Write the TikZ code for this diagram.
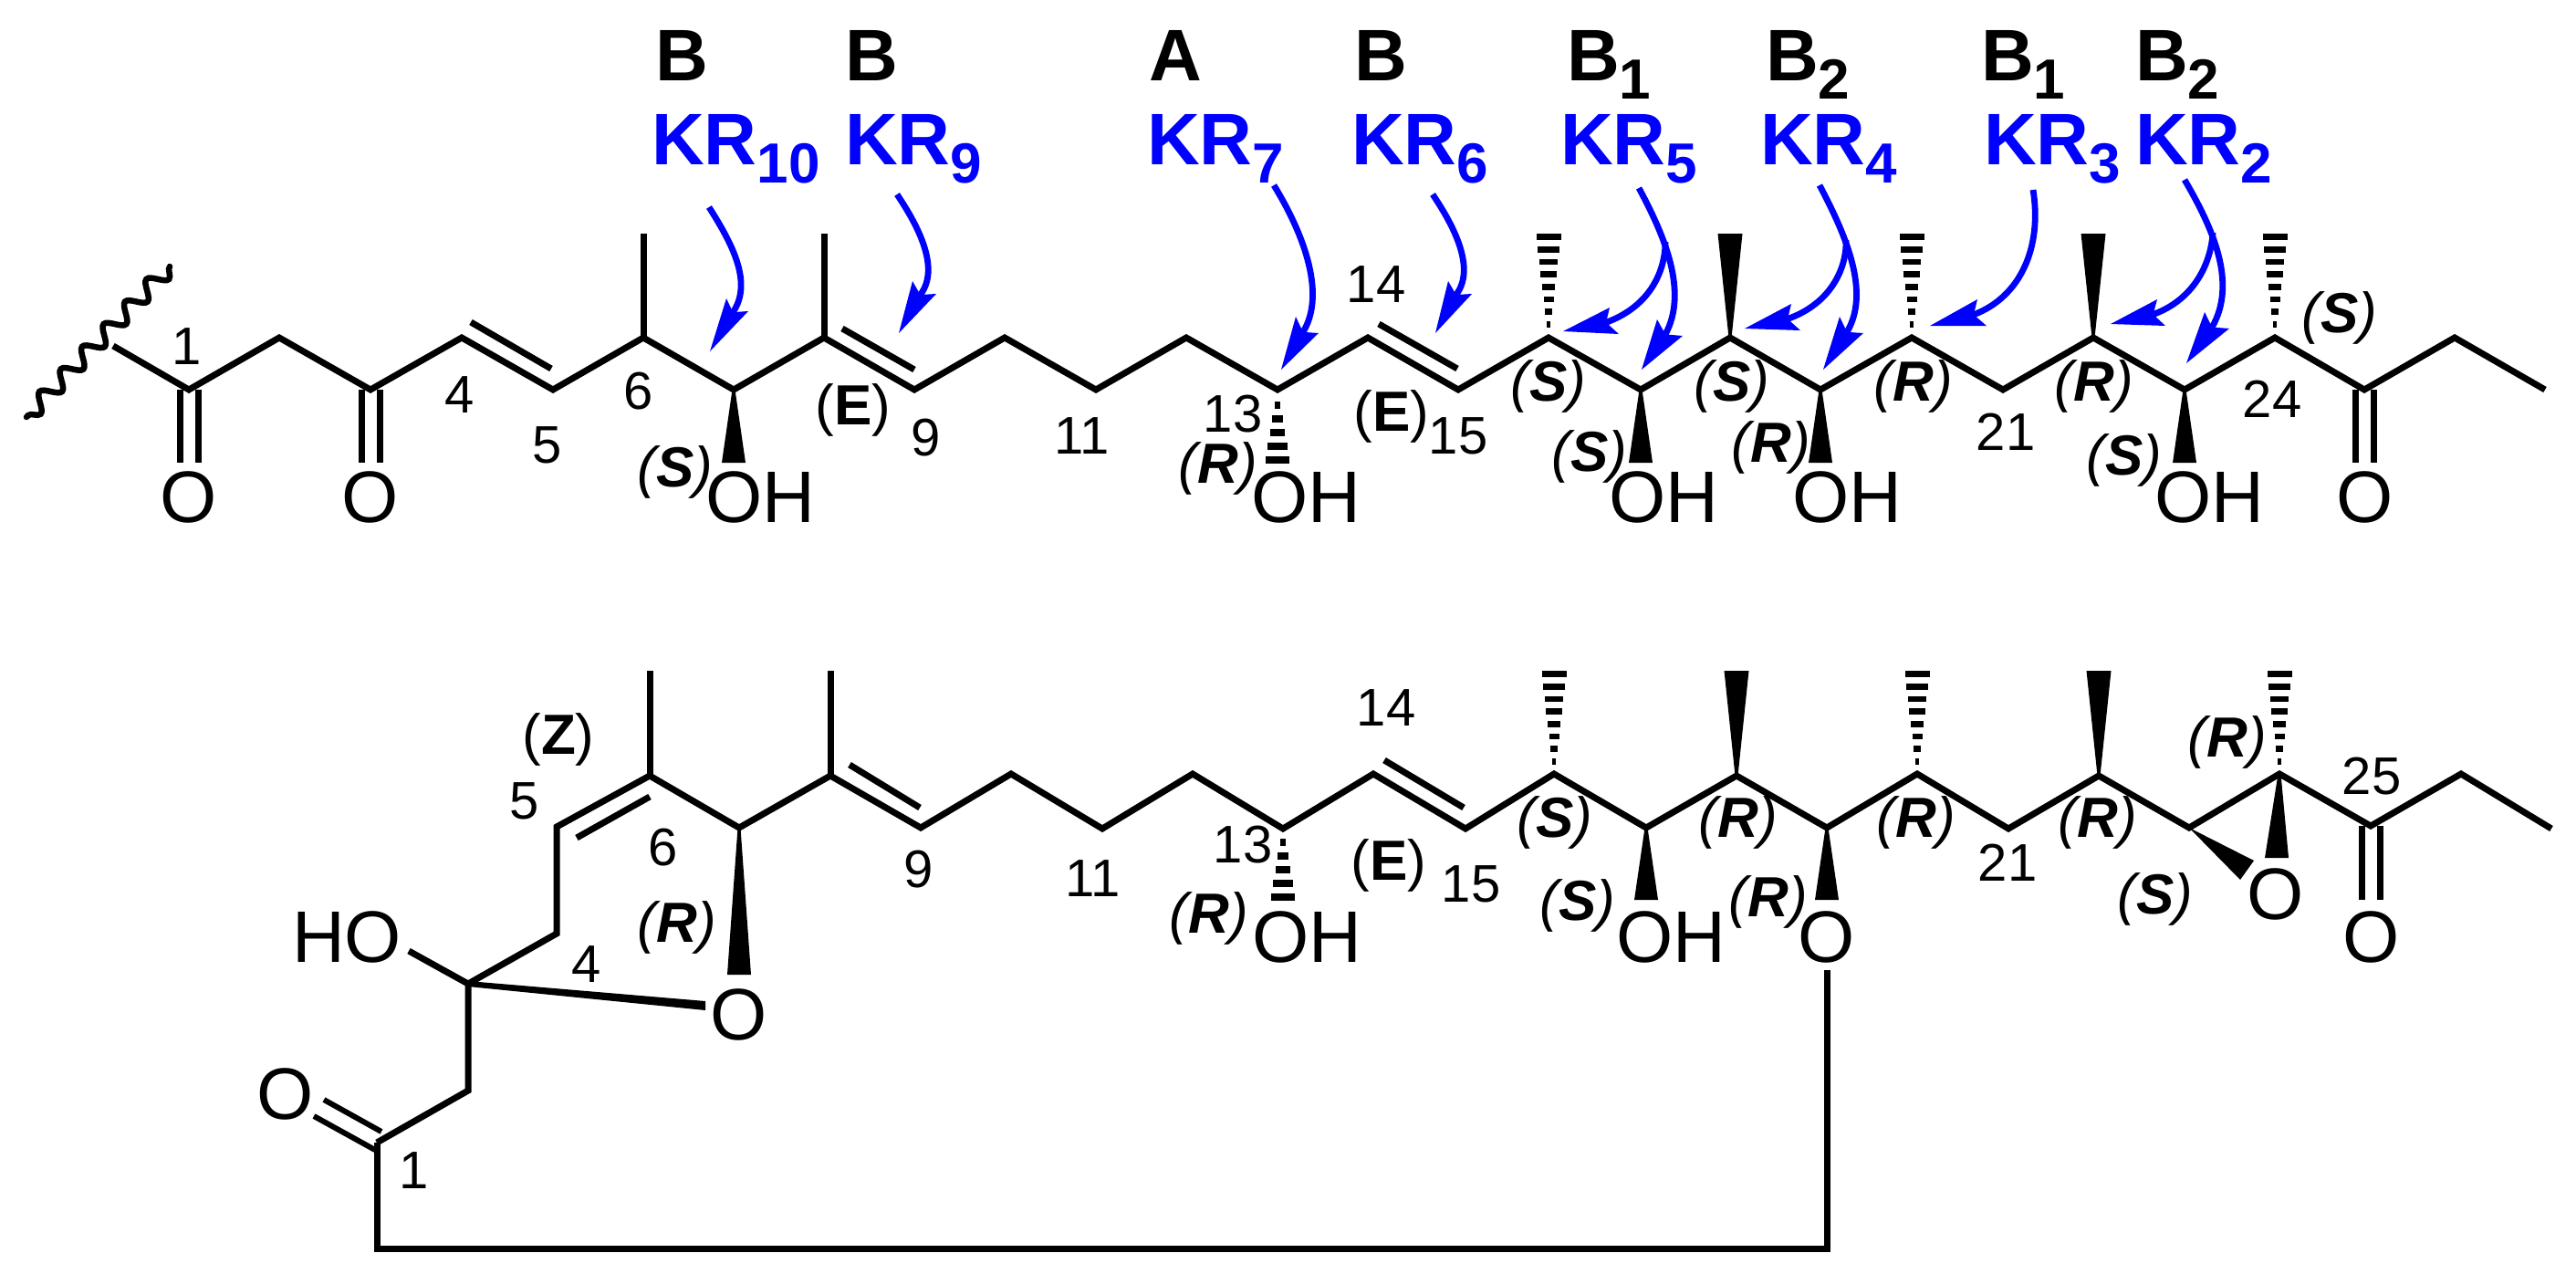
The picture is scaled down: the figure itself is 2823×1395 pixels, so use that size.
\documentclass[tikz,border=0pt]{standalone}
\usepackage{fontspec}
\setmainfont{Liberation Sans}
\usetikzlibrary{calc,decorations.pathmorphing}
\newcommand{\stR}[1]{{\itshape(}{\bfseries\itshape #1}{\itshape)}}
\newcommand{\stE}[1]{({\bfseries #1})}
\newcommand{\subdig}[1]{\raisebox{-20pt}{\fontsize{62pt}{70pt}\selectfont #1}}
% hashed bond going up from an atom, given its x and the free end's y
\newcommand{\hashup}[2]{\foreach \i in {0,...,7}{
  \pgfmathsetmacro{\hy}{#2+3.5+\i*13.7}
  \pgfmathsetmacro{\hw}{13.5-\i*1.6}
  \fill (#1-\hw,\hy-3.4) rectangle (#1+\hw,\hy+3.4);}}
% hashed bond going down from an atom
\newcommand{\hashdown}[2]{\foreach \i in {1,...,5}{
  \pgfmathsetmacro{\hy}{#2+\i*15}
  \pgfmathsetmacro{\hw}{1+\i*2.4}
  \fill (#1-\hw,\hy-4) rectangle (#1+\hw,\hy+4);}}
% solid wedge: apex name, end x, end y, half width
\newcommand{\wedgebond}[4]{\fill (#1) ++(-1.5,0) -- (#2-#4,#3) -- (#2+#4,#3) -- ($(#1)+(1.5,0)$) -- cycle;}
% blue curved arrow: name, start, control, control, tip, head back left, head back right
\newcommand{\krarrow}[7]{
  \coordinate (#1s) at #2; \coordinate (#1t) at #5;
  \coordinate (#1l) at #6; \coordinate (#1r) at #7;
  \coordinate (#1n) at ($(#1l)!.5!(#1r)!.16!(#1t)$);
  \draw[krline] (#1s) .. controls #3 and #4 .. (#1n);
  \fill[blue] (#1t) -- (#1l) -- (#1n) -- (#1r) -- cycle;}
\begin{document}
\begin{tikzpicture}[x=1pt,y=-1pt,
  bond/.style={line width=7pt,line join=miter,black},
  krline/.style={line width=6.8pt,blue},
  labbig/.style={inner sep=0pt,outer sep=0pt,font=\fontsize{80pt}{90pt}\selectfont},
  labtitle/.style={labbig,anchor=base west,font=\fontsize{80pt}{90pt}\selectfont\bfseries},
  labkr/.style={labtitle,text=blue},
  labnum/.style={inner sep=0pt,anchor=base,font=\fontsize{58pt}{64pt}\selectfont},
  labster/.style={inner sep=0pt,anchor=base,font=\fontsize{62pt}{70pt}\selectfont},
]
\useasboundingbox (0,0) rectangle (2823,1395);
% ---------- upper chain atoms
\foreach \n/\x/\y in {1/207/427,2/306/370,3/406/427,4/506/370,5/606/427,6/705/370,7/804/427,8/903/370,9/1002/427,10/1101/370,11/1201/427,12/1300/370,13/1400/427,14/1499/370,15/1598/427,16/1697/370,17/1798/427,18/1896/370,19/1995/427,20/2095/370,21/2195/427,22/2294/370,23/2394/427,24/2493/370,25/2591/427,26/2690/370,27/2789/427}
  {\coordinate (c\n) at (\x,\y);}
\coordinate (wave) at (124,379);
\coordinate (wavea) at (186,292);
\coordinate (waveb) at (29,457);
\draw[bond] (wave)--(c1)--(c2)--(c3)--(c4)--(c5)--(c6)--(c7)--(c8)--(c9)--(c10)--(c11)--(c12)--(c13)--(c14)--(c15)--(c16)--(c17)--(c18)--(c19)--(c20)--(c21)--(c22)--(c23)--(c24)--(c25)--(c26)--(c27);
\draw[line width=6.5pt,line cap=round,decorate,decoration={snake,segment length=34pt,amplitude=9pt}] (wavea) -- (waveb);
% double bonds
\coordinate (d4a) at (516,353); \coordinate (d4b) at (604,404);
\coordinate (d8a) at (923,360); \coordinate (d8b) at (1002,405);
\coordinate (d14a) at (1511,355); \coordinate (d14b) at (1597,404);
\draw[bond] (d4a)--(d4b); \draw[bond] (d8a)--(d8b); \draw[bond] (d14a)--(d14b);
% carbonyls
\foreach \n in {1,3,25}{
  \draw[bond] ([xshift=-10pt]c\n) -- ([xshift=-10pt,yshift=-80pt]c\n);
  \draw[bond] ([xshift=10pt]c\n) -- ([xshift=10pt,yshift=-80pt]c\n);}
% methyls
\coordinate (m6) at (705,256); \coordinate (m8) at (903,256);
\draw[bond] (c6)--(m6); \draw[bond] (c8)--(m8);
\hashup{1697}{256}\hashup{2095}{256}\hashup{2493}{256}
\wedgebond{c18}{1896}{256}{13.5}
\wedgebond{c22}{2294}{256}{13.5}
% OH wedges
\wedgebond{c7}{804}{507}{13}
\wedgebond{c17}{1798}{507}{13}
\wedgebond{c19}{1995}{507}{13}
\wedgebond{c23}{2394}{507}{13}
\hashdown{1400}{429}
% ---------- upper texts
\node[labbig,anchor=base] (o1) at (207,572) {O};
\node[labbig,anchor=base] (o3) at (406,572) {O};
\node[labbig,anchor=base] (o25) at (2592,572) {O};
\node[labbig,anchor=base west] (oh7) at (773,572) {OH};
\node[labbig,anchor=base west] (oh13) at (1371,572) {OH};
\node[labbig,anchor=base west] (oh17) at (1763,572) {OH};
\node[labbig,anchor=base west] (oh19) at (1964,572) {OH};
\node[labbig,anchor=base west] (oh23) at (2361,572) {OH};
\node[labster] (s7) at (740,533) {\stR{S}};
\node[labster] (e9) at (935,465) {\stE{E}};
\node[labster] (r13) at (1335,529) {\stR{R}};
\node[labster] (e15) at (1525,472) {\stE{E}};
\node[labster] (s16) at (1697,439) {\stR{S}};
\node[labster] (s17) at (1742,516) {\stR{S}};
\node[labster] (s18) at (1898,439) {\stR{S}};
\node[labster] (r19) at (1941,506) {\stR{R}};
\node[labster] (r20) at (2097,439) {\stR{R}};
\node[labster] (r22) at (2295,439) {\stR{R}};
\node[labster] (s23) at (2328,520) {\stR{S}};
\node[labster] (s24) at (2564,364) {\stR{S}};
\foreach \t/\x/\y in {1/205/399,4/504/452,5/600/507,6/700/448,9/1015/499,11/1186/497,13/1351/473,14/1508/331,15/1598/497,21/2198/493,24/2490/457}
  {\node[labnum] (nu\t) at (\x,\y) {\t};}
% ---------- top captions
\node[labtitle] (tb1) at (718,88) {B};
\node[labtitle] (tb2) at (926,88) {B};
\node[labtitle] (ta) at (1259,88) {A};
\node[labtitle] (tb3) at (1484,88) {B};
\node[labtitle] (tb4) at (1717,88) {B\subdig{1}};
\node[labtitle] (tb5) at (1935,88) {B\subdig{2}};
\node[labtitle] (tb6) at (2171,88) {B\subdig{1}};
\node[labtitle] (tb7) at (2340,88) {B\subdig{2}};
\node[labkr] (k10) at (714,180) {KR\subdig{10}};
\node[labkr] (k9) at (926,180) {KR\subdig{9}};
\node[labkr] (k7) at (1257,180) {KR\subdig{7}};
\node[labkr] (k6) at (1481,180) {KR\subdig{6}};
\node[labkr] (k5) at (1710,180) {KR\subdig{5}};
\node[labkr] (k4) at (1929,180) {KR\subdig{4}};
\node[labkr] (k3) at (2174,180) {KR\subdig{3}};
\node[labkr] (k2) at (2340,180) {KR\subdig{2}};
% ---------- blue arrows
\krarrow{a10}{(777,227)}{(803,268)}{(825,310)}{(778,385)}{(796,327)}{(820,341)}
\krarrow{a9}{(983,213)}{(1008,250)}{(1030,295)}{(985,365)}{(1000,308)}{(1026,322)}
\krarrow{a7}{(1396,203)}{(1425,250)}{(1455,320)}{(1404,405)}{(1420,347)}{(1445,365)}
\krarrow{a6}{(1570,213)}{(1595,250)}{(1617,295)}{(1573,365)}{(1587,308)}{(1613,322)}
\krarrow{a5b}{(1796,206)}{(1825,260)}{(1850,320)}{(1799,405)}{(1816,350)}{(1844,368)}
\krarrow{a5a}{(1825,265)}{(1825,295)}{(1810,335)}{(1713,363)}{(1764,337)}{(1774,366)}
\krarrow{a4b}{(1994,203)}{(2023,258)}{(2050,320)}{(1998,405)}{(2016,347)}{(2042,365)}
\krarrow{a4a}{(2023,263)}{(2024,292)}{(2008,332)}{(1912,360)}{(1963,333)}{(1973,362)}
\krarrow{a3}{(2228,208)}{(2238,270)}{(2215,325)}{(2115,357)}{(2167,328)}{(2177,357)}
\krarrow{a2b}{(2394,197)}{(2425,250)}{(2452,310)}{(2396,398)}{(2416,342)}{(2443,360)}
\krarrow{a2a}{(2425,255)}{(2423,288)}{(2405,328)}{(2313,355)}{(2364,328)}{(2373,357)}
% ---------- lower chain atoms
\foreach \n/\x/\y in {1/413/1252,2/513/1195,3/513/1078,4/610/1023,5/610/906,6/712/850,7/810/907,8/910/850,9/1009/907,10/1108/848,11/1208/908,12/1307/848,13/1406/908,14/1505/848,15/1606/908,16/1703/848,17/1804/907,18/1903/850,19/2002/907,20/2101/848,21/2201/908,22/2300/850,23/2399/907,24/2498/848,25/2598/905,26/2697/848,27/2796/908}
  {\coordinate (b\n) at (\x,\y);}
\draw[bond] (b1)--(b2)--(b3)--(b4)--(b5)--(b6)--(b7)--(b8)--(b9)--(b10)--(b11)--(b12)--(b13)--(b14)--(b15)--(b16)--(b17)--(b18)--(b19)--(b20)--(b21)--(b22)--(b23)--(b24)--(b25)--(b26)--(b27);
% lower double bonds
\coordinate (e5a) at (632,918); \coordinate (e5b) at (712,873);
\coordinate (e8a) at (931,838); \coordinate (e8b) at (1008,885);
\coordinate (e14a) at (1517,833); \coordinate (e14b) at (1604,885);
\draw[bond] (e5a)--(e5b); \draw[bond] (e8a)--(e8b); \draw[bond] (e14a)--(e14b);
\draw[bond] ([xshift=-10pt]b25) -- ([xshift=-10pt,yshift=-81pt]b25);
\draw[bond] ([xshift=10pt]b25) -- ([xshift=10pt,yshift=-81pt]b25);
% lower methyls
\coordinate (q6) at (712,735); \coordinate (q8) at (910,735);
\draw[bond] (b6)--(q6); \draw[bond] (b8)--(q8);
\hashup{1703}{735}\hashup{2101}{735}\hashup{2498}{735}
\wedgebond{b18}{1903}{735}{13.5}
\wedgebond{b22}{2300}{735}{13.5}
\wedgebond{b7}{810}{1068}{13}
\wedgebond{b17}{1804}{986}{13}
\wedgebond{b19}{2002}{986}{13}
\hashdown{1406}{908}
% epoxide
\wedgebond{b24}{2495}{940}{13}
\fill (b23) -- (2470,943) -- (2455,964) -- cycle;
% ring and macrolactone
\coordinate (hoa) at (448,1042);
\draw[bond] (b3)--(hoa);
\fill (513,1075) -- (773,1097) -- (773,1107) -- (513,1081) -- cycle;
\coordinate (c1a) at (355,1205); \coordinate (c1b) at (418,1240);
\coordinate (c1c) at (344,1223); \coordinate (c1d) at (411,1260);
\draw[bond,line width=6pt] (c1a)--(c1b); \draw[bond,line width=6pt] (c1c)--(c1d);
\coordinate (lac1) at (413,1368); \coordinate (lac2) at (2002,1368); \coordinate (lac3) at (2002,1063);
\draw[bond] (b1)--(lac1)--(lac2)--(lac3);
% lower texts
\node[labbig,anchor=base] (po1) at (313,1226) {O};
\node[labbig,anchor=base] (po2) at (810,1139) {O};
\node[labbig,anchor=base] (po3) at (2002,1054) {O};
\node[labbig,anchor=base] (po4) at (2494,1007) {O};
\node[labbig,anchor=base] (po5) at (2599,1054) {O};
\node[labbig,anchor=base west] (ho) at (320,1054) {HO};
\node[labbig,anchor=base west] (ph13) at (1372,1054) {OH};
\node[labbig,anchor=base west] (ph17) at (1771,1054) {OH};
\node[labster] (pz) at (612,826) {\stE{Z}};
\node[labster] (pr7) at (742,1032) {\stR{R}};
\node[labster] (pr13) at (1325,1022) {\stR{R}};
\node[labster] (pe) at (1522,964) {\stE{E}};
\node[labster] (ps16) at (1704,917) {\stR{S}};
\node[labster] (ps17) at (1729,1008) {\stR{S}};
\node[labster] (pr18) at (1905,917) {\stR{R}};
\node[labster] (pr19) at (1938,1004) {\stR{R}};
\node[labster] (pr20) at (2100,917) {\stR{R}};
\node[labster] (pr22) at (2299,917) {\stR{R}};
\node[labster] (ps23) at (2362,1001) {\stR{S}};
\node[labster] (pr24) at (2441,829) {\stR{R}};
\foreach \t/\x/\y in {1/454/1302,4/643/1076,5/575/897,6/727/948,9/1007/972,11/1198/982,13/1362/945,14/1519/795,15/1612/988,21/2200/965,25/2599/870}
  {\node[labnum] (pn\t) at (\x,\y) {\t};}
\end{tikzpicture}
\end{document}
